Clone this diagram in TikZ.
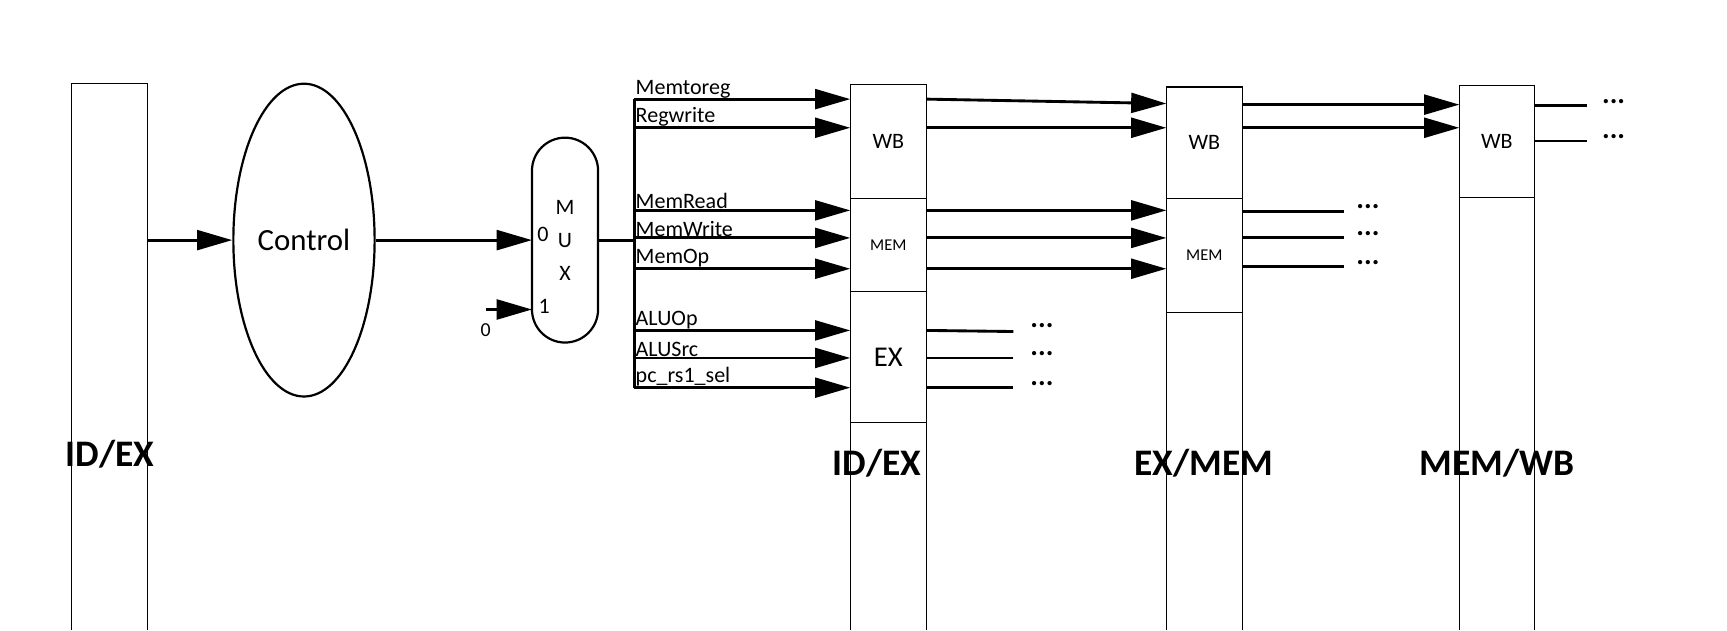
\documentclass[tikz,border=0pt]{standalone}
\usepackage{fontspec}
\setmainfont{Carlito}
\usetikzlibrary{arrows.meta,shapes.geometric}
\begin{document}
\begin{tikzpicture}[x=1pt,y=-1pt,
  ln/.style={line width=2.6pt},
  ar/.style={ln,-{Triangle[length=32pt,width=18pt]}},
  box/.style={draw,line width=1pt,inner sep=0pt},
  sig/.style={anchor=south west,inner sep=1pt,font=\fontsize{20}{20}\selectfont},
  reg/.style={font=\fontsize{34}{34}\selectfont\bfseries},
  dots/.style={font=\fontsize{26}{26}\selectfont\bfseries}]
\useasboundingbox (0,0) rectangle (1568,572);
% left register
\draw[line width=1pt] (65,572) -- (65,76) -- (134,76) -- (134,572);
\node[reg] (l1) at (100,412) {ID/EX};
\coordinate (lout) at (134,218);
\node[draw,ellipse,line width=2pt,minimum width=116pt,minimum height=284pt,font=\fontsize{28}{28}\selectfont] (ctl) at (276,218) {Control};
\draw[ar] (lout) -- (ctl.west);
\node[draw,line width=2pt,rounded corners=30pt,minimum width=60pt,minimum height=186pt] (mux) at (513,218) {};
\foreach \t/\y in {M/188,U/218,X/248} \node[font=\fontsize{20}{20}\selectfont] at (513,\y) {\t};
\node[font=\fontsize{20}{20}\selectfont] at (493,213) {0};
\node[font=\fontsize{20}{20}\selectfont] at (494,278) {1};
\draw[ar] (ctl.east) -- (483,218);
\coordinate (in1) at (441,281);
\draw[ar] (in1) -- (483,281);
\node[font=\fontsize{18}{18}\selectfont] at (441,300) {0};
\coordinate (mo) at (576,218);
\draw[ln] (mux.east) -- (mo);
\draw[ln] (576,90) -- (576,352);
% ID/EX boxes
\node[box,minimum width=69pt,minimum height=103pt,font=\fontsize{20}{20}\selectfont] (wb1) at (806.5,128.5) {WB};
\node[box,minimum width=69pt,minimum height=85pt,font=\fontsize{15}{15}\selectfont] (mem1) at (806.5,222.5) {MEM};
\node[box,minimum width=69pt,minimum height=119pt,font=\fontsize{26}{26}\selectfont] (ex1) at (806.5,324.5) {EX};
\draw[line width=1pt] (772,384) -- (772,572) (841,384) -- (841,572);
\node[reg] at (796,421) {ID/EX};
% EX/MEM boxes
\node[box,minimum width=69pt,minimum height=101pt,font=\fontsize{20}{20}\selectfont] (wb2) at (1093.5,129.5) {WB};
\node[box,minimum width=69pt,minimum height=104pt,font=\fontsize{15}{15}\selectfont] (mem2) at (1093.5,232) {MEM};
\draw[line width=1pt] (1059,284) -- (1059,572) (1128,284) -- (1128,572);
\node[reg] at (1093,421) {EX/MEM};
% MEM/WB
\node[box,minimum width=68pt,minimum height=101pt,font=\fontsize{20}{20}\selectfont] (wb3) at (1359,128.5) {WB};
\draw[line width=1pt] (1325,179) -- (1325,572) (1393,179) -- (1393,572);
\node[reg] at (1359,421) {MEM/WB};
% signals
\foreach \n/\y/\t in {a/90/Memtoreg,b/116/Regwrite,c/191/MemRead,d/216/MemWrite,e/244/MemOp,f/300/ALUOp,g/325/ALUSrc,h/352/pc\_rs1\_sel}{
  \coordinate (s\n) at (576,\y);
  \coordinate (t\n) at (772,\y);
  \draw[ar] (s\n) -- (t\n);
  \node[sig] at (576,\y) {\t};
}
% ID/EX -> EX/MEM
\foreach \a/\b in {90/94,116/116,191/191,216/216,244/244}{
  \coordinate (p\a) at (841,\a); \coordinate (q\a) at (1059,\b);
  \draw[ar] (p\a) -- (q\a);
}
\foreach \y/\z in {300/301,325/325,352/352}{
  \coordinate (e\y) at (841,\y); \coordinate (f\y) at (920,\z);
  \draw[ln] (e\y) -- (f\y);
  \node[dots] at (946,\y-4) {...};
}
% EX/MEM -> MEM/WB
\foreach \y in {95,116}{
  \coordinate (g\y) at (1128,\y); \coordinate (h\y) at (1325,\y);
  \draw[ar] (g\y) -- (h\y);
}
\foreach \y in {192,216,242}{
  \coordinate (i\y) at (1128,\y); \coordinate (j\y) at (1220,\y);
  \draw[ln] (i\y) -- (j\y);
  \node[dots] at (1242,\y-4) {...};
}
\foreach \y in {96,128}{
  \coordinate (k\y) at (1393,\y); \coordinate (m\y) at (1441,\y);
  \draw[ln] (k\y) -- (m\y);
  \node[dots] at (1465,\y-4) {...};
}
\end{tikzpicture}
\end{document}
